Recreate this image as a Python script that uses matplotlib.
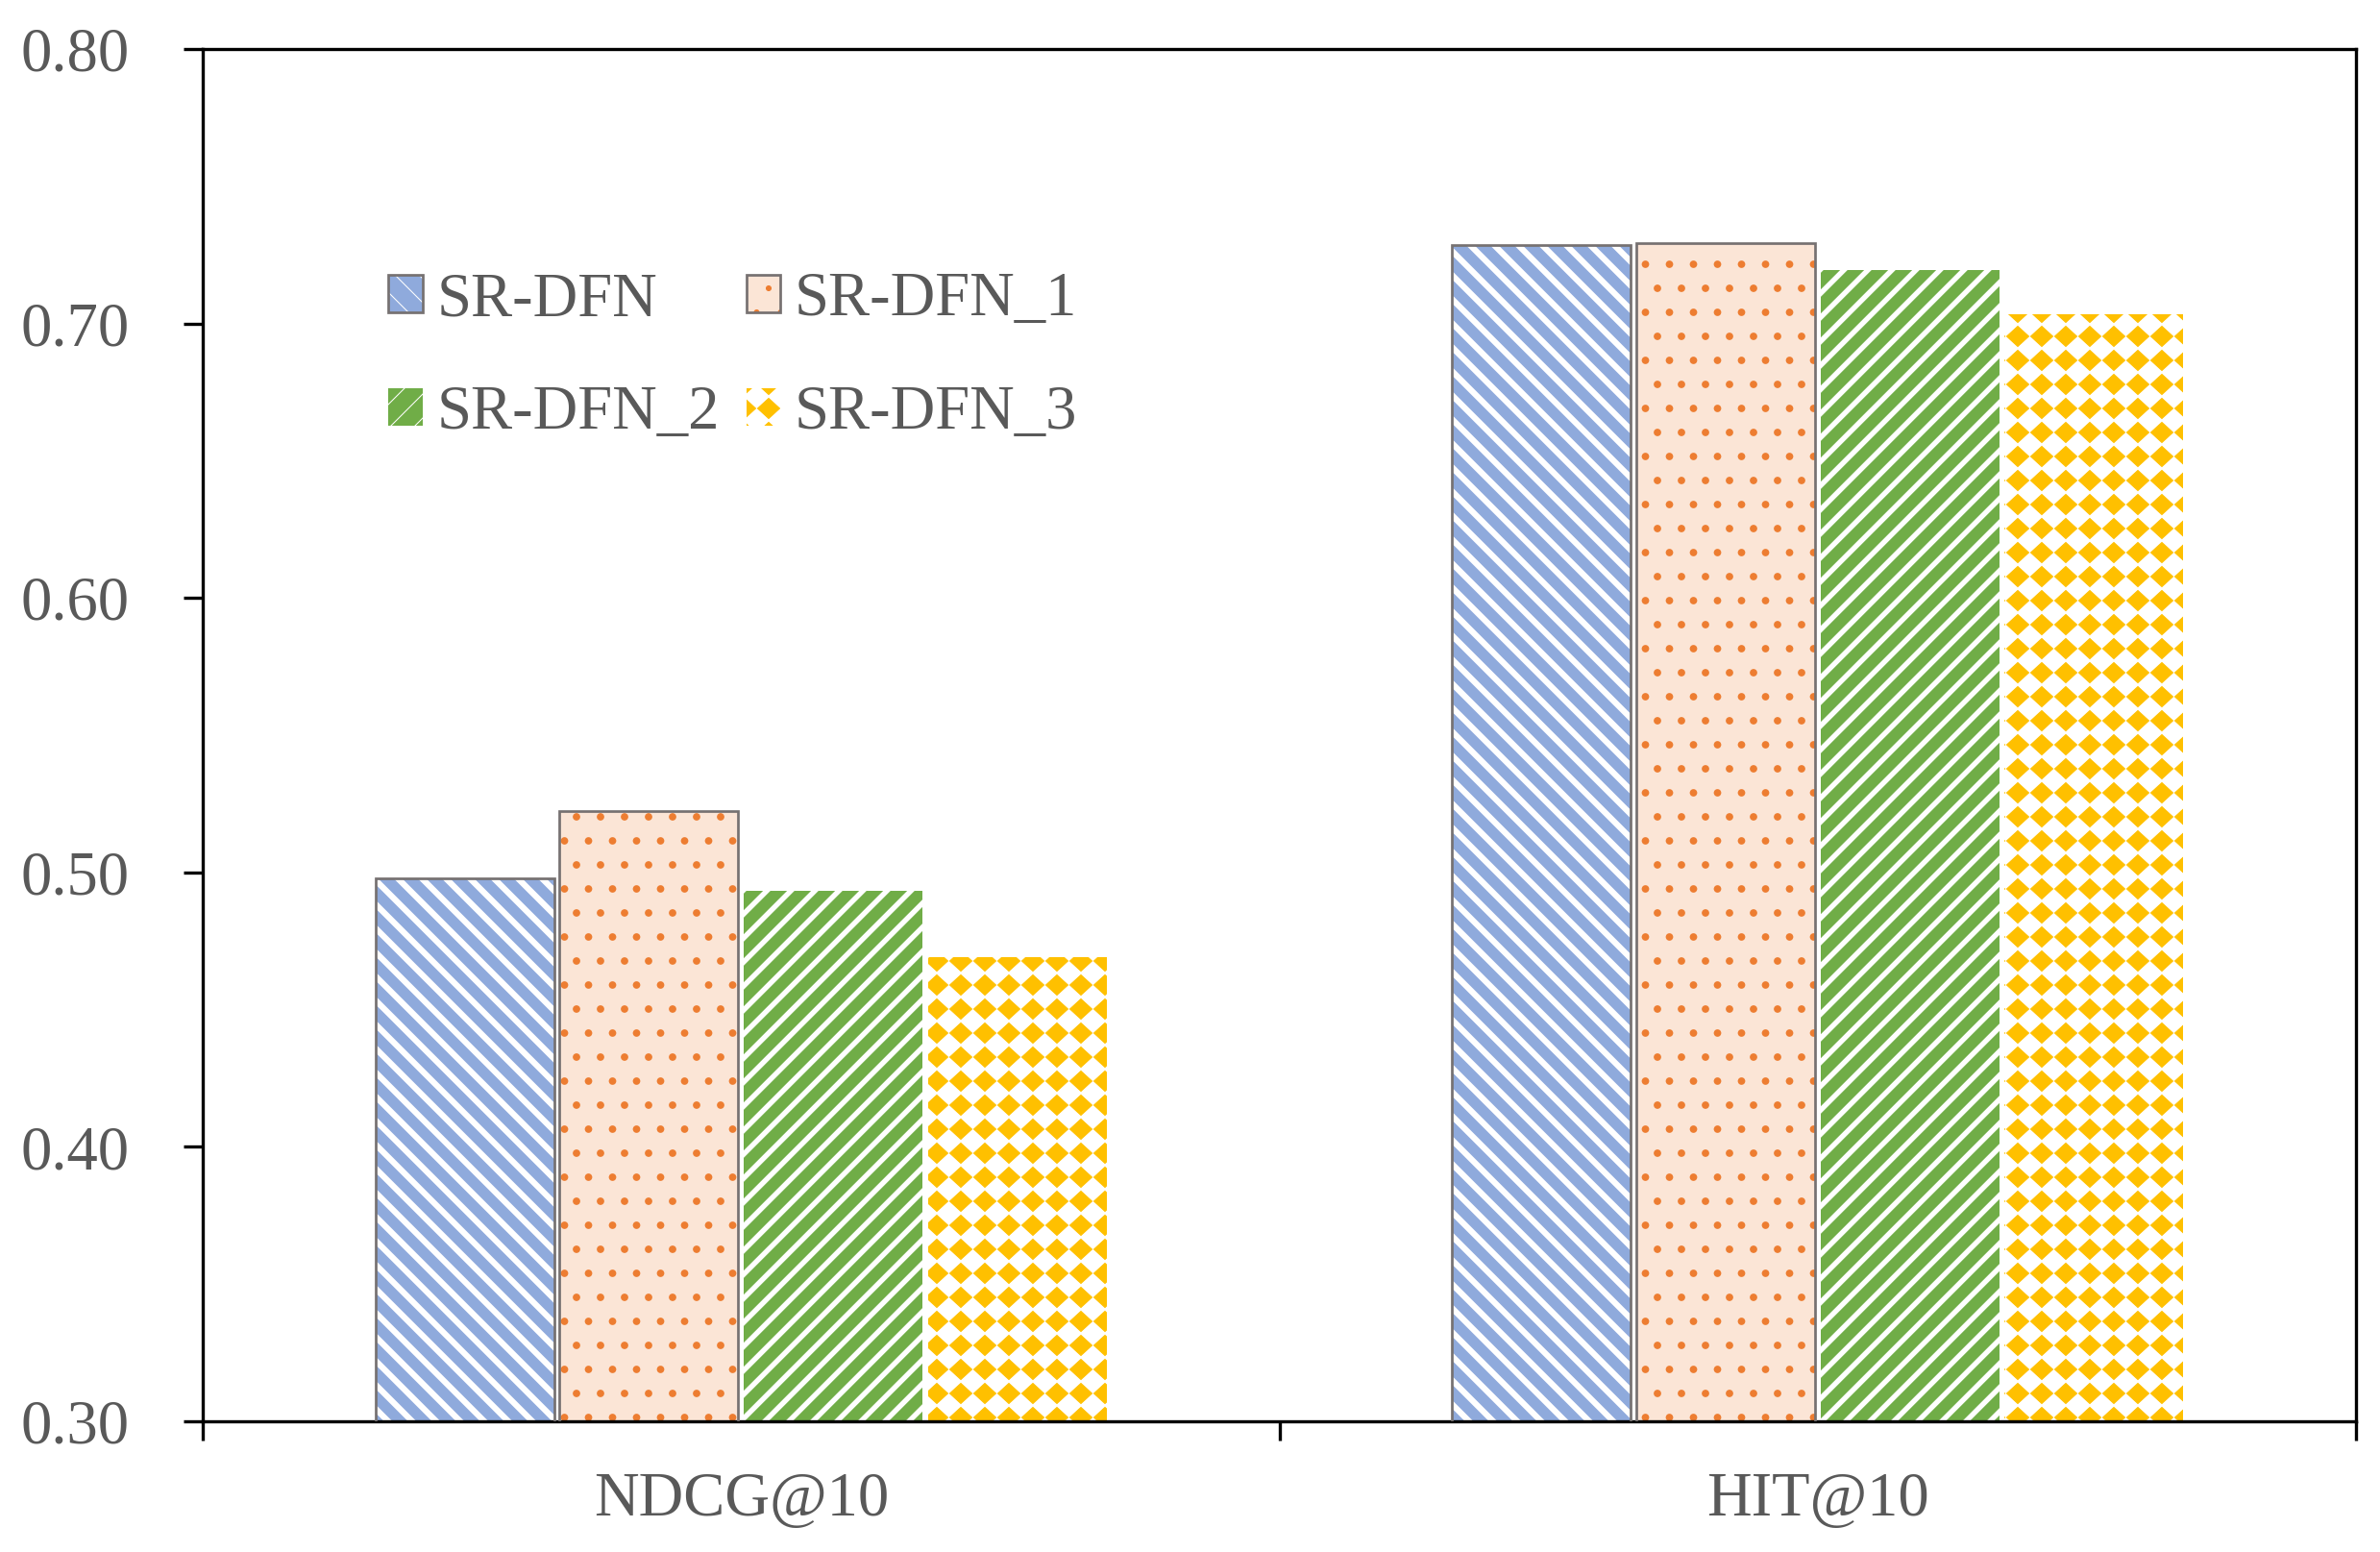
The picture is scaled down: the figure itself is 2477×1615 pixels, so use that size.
import numpy as np
import matplotlib
matplotlib.use('Agg')
import matplotlib.pyplot as plt
import matplotlib.hatch as mhatch
from matplotlib.path import Path

plt.rcParams['font.family'] = ['Liberation Serif', 'DejaVu Serif']

# 数据
categories = ['NDCG@10', 'HIT@10']
models = ['SR-DFN', 'SR-DFN_1', 'SR-DFN_2', 'SR-DFN_3']
sr_dfn = [0.498, 0.7286]
sr_dfn_1 = [0.5223, 0.7292]
sr_dfn_2 = [0.4933, 0.7193]
sr_dfn_3 = [0.469, 0.7035]
values = [sr_dfn, sr_dfn_1, sr_dfn_2, sr_dfn_3]
yticks = [0.30, 0.40, 0.50, 0.60, 0.70, 0.80]


# 'O' 改成实心菱形格子 (Excel 的菱形图案)
class DiamondHatch(mhatch.HatchPatternBase):
    def __init__(self, hatch, density):
        self.num = hatch.count('O') * density
        self.num_vertices = (self.num + 1) ** 2 * 5 if self.num else 0

    def set_vertices_and_codes(self, vertices, codes):
        n = self.num
        c = np.linspace(0, 1, n + 1)
        cx, cy = np.meshgrid(c, c)
        centers = np.stack([cx.ravel(), cy.ravel()], 1)
        rx, ry = 0.46 / n, 0.42 / n
        shape = np.array([[0, -ry], [rx, 0], [0, ry], [-rx, 0], [0, -ry]])
        vertices[:] = (shape[None, :, :] + centers[:, None, :]).reshape(-1, 2)
        cc = np.full((len(centers), 5), Path.LINETO, dtype=codes.dtype)
        cc[:, 0] = Path.MOVETO
        cc[:, 4] = Path.CLOSEPOLY
        codes[:] = cc.ravel()


mhatch._hatch_types = [t for t in mhatch._hatch_types if t is not mhatch.LargeCircles] + [DiamondHatch]

face_colors = ['#8FAADC', '#FBE5D6', '#70AD47', 'white']
hatch_colors = ['white', '#ED7D31', 'white', '#FFC000']
hatches = ['\\\\', '.', '//', 'O']
hatch_lws = [3.0, 1.3, 2.6, 0.5]
edge_colors = ['#767171', '#767171', 'none', 'none']
text_color = '#595959'

fig = plt.figure(figsize=(2477 / 150, 1615 / 150), dpi=150)
ax = fig.add_axes([211 / 2477, 1 - 1479 / 1615, (2452 - 211) / 2477, (1479 - 51) / 1615])

x = np.arange(len(categories))
step = 0.171
width = 0.166
handles = []
for i in range(len(models)):
    pos = x + (i - 1.5) * step
    plt.rcParams['hatch.linewidth'] = hatch_lws[i]
    fill = ax.bar(pos, values[i], width, bottom=0, color=face_colors[i],
                  edgecolor=hatch_colors[i], linewidth=0, hatch=hatches[i], zorder=2)
    for p in fill:
        if hasattr(p, 'set_hatch_linewidth'):
            p.set_hatch_linewidth(hatch_lws[i])
    edge = ax.bar(pos, values[i], width, bottom=0, fill=False,
                  edgecolor=edge_colors[i], linewidth=1.3, zorder=3)
    handles.append((fill, edge))

ax.set_ylim(0.30, 0.80)
ax.set_xlim(-0.5, 1.5)
ax.set_yticks(yticks)
ax.set_yticklabels(['%.2f' % v for v in yticks])
ax.set_xticks([-0.5, 0.5, 1.5])
ax.set_xticklabels([])
ax.set_xticks(x, categories, minor=True)

for s in ax.spines.values():
    s.set_linewidth(1.6)
    s.set_color('black')
ax.tick_params(axis='y', which='major', direction='out', length=9.6, width=1.6,
               pad=27, labelsize=31, labelcolor=text_color)
ax.tick_params(axis='x', which='major', direction='out', length=9.6, width=1.6)
ax.tick_params(axis='x', which='minor', length=0, pad=25, labelsize=31,
               labelcolor=text_color)

# 图例按行排: SR-DFN, SR-DFN_1 / SR-DFN_2, SR-DFN_3
order = [0, 2, 1, 3]
leg = fig.legend([handles[k] for k in order], [models[k] for k in order],
                 loc='upper left', bbox_to_anchor=(404 / 2477, 1 - 283 / 1615), ncol=2,
                 frameon=False, fontsize=31, handlelength=0.55, handleheight=0.55,
                 handletextpad=0.23, columnspacing=0.43, labelspacing=0.9,
                 borderpad=0, borderaxespad=0)
for t in leg.get_texts():
    t.set_color(text_color)

fig.savefig('out.png', dpi=150)
